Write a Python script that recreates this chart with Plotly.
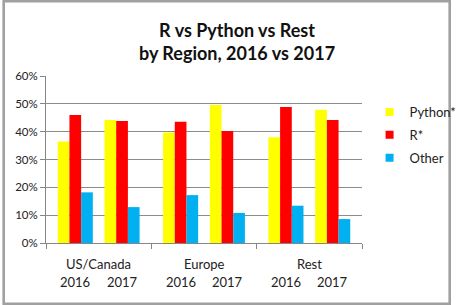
import plotly.graph_objects as go

regions = ["US/Canada", "Europe", "Rest"]
years = ["2016", "2017"]
series_names = ["Python*", "R*", "Other"]
python_vals = [36.5, 44.2, 39.7, 49.6, 38.0, 47.9]
r_vals = [46.0, 43.8, 43.6, 40.2, 48.9, 44.2]
other_vals = [18.2, 12.9, 17.2, 10.8, 13.4, 8.6]
colors = ["#FFFF00", "#FF0000", "#00B0F0"]
y_ticks = [0, 10, 20, 30, 40, 50, 60]

W, H = 474, 305
ML, MR, MT, MB = 46, 94, 76, 62
PW, PH = W - ML - MR, H - MT - MB

FONT = "Lato, Open Sans, sans-serif"

# category positions: region index +/- year offset (years within a region sit closer together)
YEAR_OFFSET = 0.222
xpos = []
for j in range(len(regions)):
    for k in range(len(years)):
        xpos.append(j + (k - (len(years) - 1) / 2) * 2 * YEAR_OFFSET)
n = len(xpos)

fig = go.Figure()
for name, vals, c in zip(series_names, [python_vals, r_vals, other_vals], colors):
    fig.add_trace(go.Bar(x=xpos, y=vals, name=name, marker=dict(color=c, line=dict(width=0)),
                         showlegend=False))
# legend entries with small square swatches
for name, c in zip(series_names, colors):
    fig.add_trace(go.Scatter(x=[None], y=[None], mode="markers", name=name,
                             marker=dict(symbol="square", size=8, color=c),
                             legendgroup=name))


def px_x(px):
    return (px - ML) / PW


def px_y(py):
    return (H - MB - py) / PH


# chart border frame
fig.add_shape(type="rect", xref="paper", yref="paper",
              x0=px_x(1.3), x1=px_x(472.7), y0=px_y(303.7), y1=px_y(1.3),
              line=dict(color="#A0A0A0", width=2.6), layer="below")

annotations = []
for i in range(n):
    annotations.append(dict(x=xpos[i], y=px_y(282), xref="x", yref="paper",
                            text=years[i % len(years)], showarrow=False,
                            font=dict(size=13, color="#222", family=FONT), yanchor="middle"))
for j, reg in enumerate(regions):
    annotations.append(dict(x=j, y=px_y(264), xref="x", yref="paper",
                            text=reg, showarrow=False,
                            font=dict(size=13, color="#222", family=FONT), yanchor="middle"))

boundaries = [j - 0.5 for j in range(len(regions) + 1)]

fig.update_layout(
    width=W, height=H,
    margin=dict(l=ML, r=MR, t=MT, b=MB),
    paper_bgcolor="white", plot_bgcolor="white",
    title=dict(text="<b>R vs Python vs Rest<br>by Region, 2016 vs 2017</b>",
               x=0.5, xref="container", xanchor="center", y=1 - 37 / H, yanchor="middle",
               font=dict(size=18, color="#111", family=FONT)),
    barmode="group", bargap=0.25, bargroupgap=0,
    showlegend=True,
    legend=dict(x=px_x(388), y=px_y(97), xanchor="left", yanchor="top",
                font=dict(size=13, color="#222", family=FONT),
                traceorder="grouped", tracegroupgap=3,
                itemwidth=30, bgcolor="rgba(0,0,0,0)"),
    annotations=annotations,
    xaxis=dict(range=[-0.5, len(regions) - 0.5], tickvals=boundaries,
               ticktext=[""] * len(boundaries),
               ticks="outside", ticklen=5, tickcolor="#868686", showgrid=False,
               showline=True, linecolor="#868686", linewidth=1, zeroline=False),
    yaxis=dict(range=[0, 60], tickvals=y_ticks, ticktext=[f"{v}%" for v in y_ticks],
               ticks="outside", ticklen=5, tickcolor="#868686",
               showgrid=True, gridcolor="#8C8C8C", gridwidth=1,
               showline=True, linecolor="#868686", linewidth=1, zeroline=False,
               tickfont=dict(size=11.5, color="#222", family=FONT)),
)

fig.write_html("out.html")
